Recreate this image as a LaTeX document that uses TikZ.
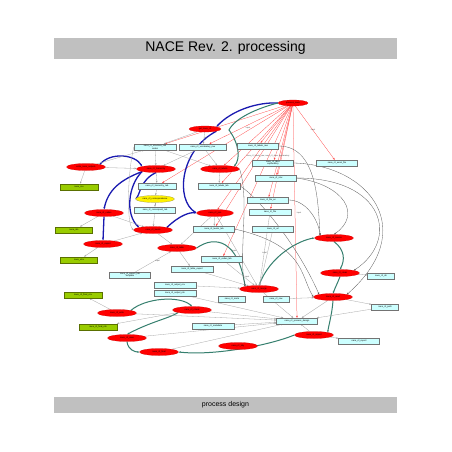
\documentclass[tikz,border=0pt]{standalone}
\usepackage{fontspec}
\setmainfont{Liberation Sans}
\usetikzlibrary{shapes.geometric,arrows.meta}
\pgfdeclarelayer{bg}
\pgfsetlayers{bg,main}
\definecolor{barg}{HTML}{C0C0C0}
\definecolor{cyanf}{HTML}{CCFFFF}
\definecolor{grn}{HTML}{99CC00}
\definecolor{grnd}{HTML}{5A7000}
\definecolor{tealc}{HTML}{357F6E}
\definecolor{bluc}{HTML}{1A1AB0}
\begin{document}
\begin{tikzpicture}[x=1pt,y=-1pt,
  tx/.style={font=\fontsize{2.2}{2.6}\selectfont,align=center},
  redn/.style={ellipse,fill=red,draw=red!80!black,line width=0.2pt,minimum width=39pt,minimum height=7pt,inner sep=0pt,tx},
  yeln/.style={ellipse,fill=yellow,draw=yellow!50!black,line width=0.2pt,minimum width=39pt,minimum height=7pt,inner sep=0pt,tx},
  cbox/.style={rectangle,fill=cyanf,draw=black!55,line width=0.3pt,minimum width=41pt,minimum height=6pt,inner sep=0pt,tx},
  gbox/.style={rectangle,fill=grn,draw=grnd,line width=0.3pt,minimum width=38pt,minimum height=6.5pt,inner sep=0pt,tx},
  bar/.style={rectangle,fill=barg,draw=none,inner sep=0pt},
  tip/.style={-{Stealth[length=2.2pt,width=1.7pt]}},
  redl/.style={tip,draw=red!75,line width=0.25pt},
  gryl/.style={tip,draw=black!35,line width=0.3pt},
  blkl/.style={tip,draw=black!65,line width=0.3pt},
  blul/.style={tip,draw=bluc,line width=1.3pt},
  teal/.style={tip,draw=tealc,line width=1pt},
  elab/.style={font=\fontsize{2}{2.4}\selectfont,text=black!70,inner sep=0.3pt}
]
\useasboundingbox (0,0) rectangle (452,452);
\begin{pgfonlayer}{bg}
\fill[white] (0,0) rectangle (452,452);
\end{pgfonlayer}

% bars
\node[bar,minimum width=343pt,minimum height=21pt] (title) at (225.5,48.5) {};
\node[font=\fontsize{14}{16}\selectfont] (titletext) at (225.5,48) {NACE Rev. 2. processing};
\node[bar,minimum width=343pt,minimum height=16pt] (foot) at (225.5,405) {};
\node[font=\fontsize{7}{8}\selectfont] (foottext) at (225.5,405) {process design};

% red nodes
\node[redn,minimum width=30pt,minimum height=6pt] (r1) at (293,103) {process\_nace};
\node[redn,minimum width=32pt,minimum height=6pt] (r2) at (205,129) {get\_nace\_r2};
\node[redn] (r3) at (86,167) {write\_nace\_outputs};
\node[redn] (r4) at (156,169) {nace\_r2\_hierarchy};
\node[redn] (r5) at (220,169) {nace\_r2\_labels};
\node[redn] (r6) at (104,213) {nace\_r2\_codes};
\node[redn] (r7) at (103,244) {nace\_r2\_export};
\node[redn] (r8) at (153,230) {nace\_r2\_levels};
\node[redn,minimum width=37pt] (r9) at (215,213) {nace\_r2\_join};
\node[redn] (r10) at (177,248) {nace\_r2\_table};
\node[redn] (r11) at (334,238) {nace\_r2\_source};
\node[redn] (r12) at (340,273) {nace\_r2\_clean};
\node[redn] (r13) at (259,289) {nace\_r2\_merge};
\node[redn] (r14) at (333,297) {nace\_r2\_read};
\node[redn] (r15) at (192,310) {nace\_r2\_check};
\node[redn] (r16) at (117,313) {nace\_r2\_write};
\node[redn] (r17) at (127,338) {nace\_r2\_save};
\node[redn] (r18) at (159,352) {nace\_r2\_final};
\node[redn] (r19) at (238,346) {nace\_r2\_tidy};
\node[redn] (r20) at (314,335) {nace\_r2\_import};
\node[yeln] (y1) at (155,199) {nace\_r2\_correspondence};

% cyan boxes
\node[cbox,minimum width=42pt] (b1) at (155,147) {nace\_r2\_structure\_tab\\codes};
\node[cbox,minimum width=47pt] (b2) at (203,147) {nace\_r2\_vocabulary\_raw};
\node[cbox] (b3) at (258,146) {nace\_r2\_labels\_raw};
\node[cbox] (b4) at (273,163) {nace\_r2\_desc\\explanatory};
\node[cbox] (b5) at (337,163) {nace\_r2\_excel\_file};
\node[cbox] (b6) at (276,178) {nace\_r2\_xlsx};
\node[cbox,minimum width=38pt] (b7) at (157,186) {nace\_r2\_hierarchy\_tab};
\node[cbox,minimum width=42pt] (b8) at (219,186) {nace\_r2\_labels\_tab};
\node[cbox] (b9) at (155,210) {nace\_r2\_correspond\_tab};
\node[cbox] (b10) at (268,200) {nace\_r2\_file\_en};
\node[cbox,minimum width=42pt] (b11) at (270,212) {nace\_r2\_file};
\node[cbox] (b12) at (214,229) {nace\_r2\_levels\_tab};
\node[cbox] (b13) at (273,229) {nace\_r2\_url};
\node[cbox] (b14) at (222,259) {nace\_r2\_codes\_tab};
\node[cbox,minimum width=42pt] (b15) at (192,269) {nace\_r2\_table\_export};
\node[cbox] (b16) at (130,275) {nace\_r2\_export\_tab\\template};
\node[cbox,minimum width=42pt] (b17) at (175,285) {nace\_r2\_output\_csv};
\node[cbox,minimum width=42pt] (b18) at (175,293) {nace\_r2\_output\_rds};
\node[cbox,minimum width=27pt] (b19) at (232,299) {nace\_r2\_meta};
\node[cbox,minimum width=26pt] (b20) at (276,299) {nace\_r2\_raw};
\node[cbox,minimum width=27pt] (b21) at (381,276) {nace\_r2\_dir};
\node[cbox,minimum width=27pt] (b22) at (385,307) {nace\_r2\_path};
\node[cbox,minimum width=42pt] (b23) at (213,326) {nace\_r2\_metadata};
\node[cbox] (b24) at (297,321) {nace\_r2\_process\_design};
\node[cbox] (b25) at (359,341) {nace\_r2\_report};

% green boxes
\node[gbox] (g1) at (79,187) {nace\_csv};
\node[gbox,minimum width=37pt] (g2) at (74,230) {nace\_rds};
\node[gbox,minimum width=37pt] (g3) at (79,260) {nace\_xlsx};
\node[gbox] (g4) at (83,295) {nace\_r2\_final\_csv};
\node[gbox] (g5) at (98,327) {nace\_r2\_final\_rds};

% plain label
\node[elab] (t1) at (268,156) {nace\_r2\_labels\_raw, nace\_r2\_desc, explanatory};

\begin{pgfonlayer}{bg}
% red fan from r1
\foreach \t in {b1,b2,b3,b4,b6,b7,b8,r5,r9,b12,b10,b14,b11}
  \draw[redl] (r1) -- (\t);
\draw[redl] (r1) -- node[elab,pos=0.45] (l1) {input} (b5);
\draw[redl] (r1.south) -- (b24.north);
\node[elab] (l2) at (248,128) {input};

% thick blue
\draw[blul] (r1.west) .. controls (258,102) and (232,110) .. (r2.north east);
\draw[blul] (r2.south east) .. controls (180,150) and (175,200) .. (r9.west);
\draw[blul] (r3.north east) .. controls (110,152) and (135,154) .. (r4.north west);
\draw[blul] (r4.south west) .. controls (120,180) and (108,190) .. (r6.north);
\draw[blul] (r4.south west) .. controls (128,185) and (125,215) .. (r8.north west);
\draw[blul] (r4.south) .. controls (140,180) and (140,195) .. (y1.west);
\draw[blul] (r6.south) -- (r7.north);
\draw[blul] (r8.north east) .. controls (180,215) and (190,212) .. (r9.west);

% thick teal
\draw[teal] (r1.west) .. controls (258,108) and (235,118) .. (229,130)
   .. controls (240,145) and (240,160) .. (r5.north east);
\draw[teal] (r10.east) .. controls (215,235) and (238,240) .. (r13.north west);
\draw[teal] (r13.north) .. controls (270,255) and (300,240) .. (r11.west);
\draw[teal] (r11.south) .. controls (345,250) and (345,260) .. (r12.north);
\draw[teal] (r12.south) .. controls (338,282) and (335,288) .. (r14.north);
\draw[teal] (r14.south) .. controls (332,315) and (328,328) .. (r20.north east);
\draw[teal] (r20.west) .. controls (270,345) and (215,356) .. (r18.east);
\draw[teal] (r17.south) .. controls (128,350) and (135,352) .. (r18.west);
\draw[teal] (r15.south west) .. controls (170,318) and (150,322) .. (r17.north);
\draw[teal] (r16.north east) .. controls (145,298) and (180,295) .. (r15.north);

% gray thin
\draw[gryl] (r3) -- (g1);
\draw[gryl] (r6) -- (g2);
\draw[gryl] (r7) -- (g3);
\draw[gryl] (r16) -- (g4);
\draw[gryl] (r15) -- (g5);
\draw[gryl] (b1) -- (r4);
\draw[gryl] (r4) -- (b7);
\draw[gryl] (b7) -- (y1);
\draw[gryl] (y1) -- (b9);
\draw[gryl] (b9) -- (r8);
\draw[gryl] (r3) -- (r4);
\draw[gryl] (b1) -- (r5);
\draw[gryl] (b2) -- (r4);
\draw[gryl] (r5) -- (b8);
\draw[gryl] (b2) -- (r5);
\draw[gryl] (r2) -- node[elab,pos=0.5,right] (l3) {out} (b2);
\draw[gryl] (r2) -- (b1);
\draw[gryl] (r3) -- (b1);
\draw[gryl] (r6) -- (r8);
\draw[gryl] (r7) -- (r8);
\draw[gryl] (r8) -- (r10);
\draw[gryl] (r9) -- (r10);
\draw[gryl] (b16) -- node[elab,pos=0.55,right] (l4) {input} (r10);
\draw[gryl] (r10) -- (b15);
\draw[gryl] (b1.west) .. controls (128,170) and (126,222) .. (r8.west);
\draw[gryl] (b17) -- (r13);
\draw[gryl] (b18) -- (b24);
\draw[gryl] (b15) -- (r13);
\draw[gryl] (r15) -- (b24);
\draw[gryl] (r16) -- (b24);
\draw[gryl] (r17) -- (b24);
\draw[gryl] (b23) -- (b24);
\draw[gryl] (r18) -- (b24);
\draw[gryl] (r14) -- (b24);
\draw[gryl] (b20) -- (r14);
\draw[gryl] (b22) -- (b24);
\draw[gryl] (r20) -- (b24);
\draw[gryl] (r20) -- (b25);
\draw[gryl] (r12) -- (b21);
\draw[gryl] (r14) -- (b22);
\draw[gryl] (b13) -- node[elab,pos=0.4,left] (l5) {input} (r13);
\draw[gryl] (b11) -- (r13);
\draw[gryl] (b14) -- (r13);
\draw[gryl] (r13) -- (b24);
\draw[gryl] (r9) -- (b12);
\draw[gryl] (r9) -- node[elab,pos=0.5,left] (l6) {input} (r13);

% black thin curves
\draw[blkl] (b3.east) .. controls (318,146) and (318,205) .. (r11.north west);
\draw[blkl] (b6.east) .. controls (385,178) and (400,240) .. (r12.north east);
\draw[blkl] (b6.east) .. controls (345,185) and (362,215) .. (r11.north);
\draw[blkl] (b10.east) .. controls (305,200) and (318,218) .. (r11.north west);
\draw[blkl] (b4.east) .. controls (370,165) and (420,230) .. (r14.north east);
\draw[blkl] (r5.east) .. controls (250,200) and (238,255) .. (r13.north west);
\draw[blkl] (b8.east) .. controls (255,195) and (295,240) .. (r14.north west);
\draw[blkl] (b12.east) .. controls (305,245) and (300,275) .. (r14.west);
\node[elab] (l7) at (299,213) {input};
\node[elab] (l8) at (247,277) {input};
\end{pgfonlayer}
\end{tikzpicture}
\end{document}
